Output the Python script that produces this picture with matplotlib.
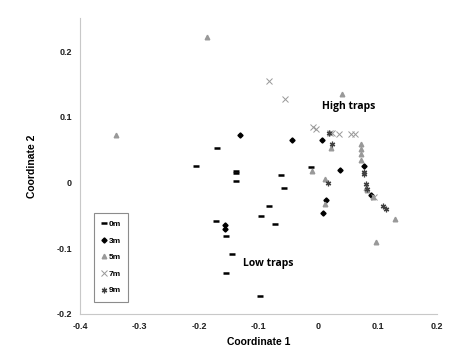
import matplotlib
matplotlib.use("Agg")
import matplotlib.pyplot as plt

# coordinates, one pair of lists per trap height
x_0m = [-0.205, -0.170, -0.138, -0.138, -0.138, -0.063, -0.058, -0.082, -0.096, -0.073,
        -0.172, -0.155, -0.144, -0.154, -0.098, -0.012]
y_0m = [0.025, 0.052, 0.018, 0.014, 0.002, 0.011, -0.008, -0.035, -0.051, -0.063,
        -0.059, -0.082, -0.108, -0.138, -0.172, 0.023]

x_3m = [-0.131, -0.043, 0.006, 0.037, 0.013, 0.008, 0.077, 0.089, -0.156, -0.156]
y_3m = [0.073, 0.064, 0.064, 0.019, -0.026, -0.046, 0.025, -0.019, -0.065, -0.070]

x_5m = [-0.186, -0.340, 0.041, 0.021, -0.011, 0.012, 0.011, 0.073, 0.073, 0.073,
        0.073, 0.080, 0.083, 0.129, 0.098, 0.092]
y_5m = [0.222, 0.073, 0.135, 0.052, 0.018, 0.006, -0.033, 0.058, 0.051, 0.043,
        0.035, -0.008, -0.012, -0.055, -0.090, -0.022]

x_7m = [-0.082, -0.055, -0.008, -0.004, 0.020, 0.024, 0.035, 0.056, 0.062, 0.094]
y_7m = [0.154, 0.127, 0.084, 0.081, 0.076, 0.076, 0.074, 0.074, 0.074, -0.022]

x_9m = [0.019, 0.023, 0.017, 0.077, 0.077, 0.081, 0.083, 0.109, 0.115]
y_9m = [0.076, 0.059, 0.000, 0.016, 0.013, -0.003, -0.010, -0.035, -0.041]

x_ticks = [-0.4, -0.3, -0.2, -0.1, 0, 0.1, 0.2]
y_ticks = [-0.2, -0.1, 0, 0.1, 0.2]

plt.rcParams['font.family'] = ['Liberation Sans', 'DejaVu Sans']

fig = plt.figure(figsize=(4.74, 3.46), dpi=100)
ax = fig.add_axes([0.169, 0.0925, 0.753, 0.855])

ax.plot(x_0m, y_0m, ls='none', marker='_', ms=4.5, mew=1.8, color='black', label='0m')
ax.plot(x_3m, y_3m, ls='none', marker='D', ms=2.6, color='black', label='3m')
ax.plot(x_5m, y_5m, ls='none', marker='^', ms=3.3, color='#999999', label='5m')
ax.plot(x_7m, y_7m, ls='none', marker='x', ms=4.5, mew=0.7, color='#999999', label='7m')
ax.plot(x_9m, y_9m, ls='none', marker=(6, 2, 0), ms=4, mew=0.9, color='#404040', label='9m')

ax.set_xlim(-0.4, 0.2)
ax.set_ylim(-0.2, 0.25)
ax.set_xticks(x_ticks)
ax.set_yticks(y_ticks)
ax.set_xticklabels([('%g' % v) for v in x_ticks], fontsize=6.5, fontweight='bold', color='#202020')
ax.set_yticklabels([('%g' % v) for v in y_ticks], fontsize=6.5, fontweight='bold', color='#202020')
ax.tick_params(length=0, pad=6)
for s in ['top', 'right']:
    ax.spines[s].set_visible(False)
for s in ['left', 'bottom']:
    ax.spines[s].set_color('#c8c8c8')
    ax.spines[s].set_linewidth(0.8)

ax.set_xlabel('Coordinate 1', fontsize=7.5, fontweight='bold', labelpad=4)
ax.set_ylabel('Coordinate 2', fontsize=7.5, fontweight='bold', labelpad=14)

ax.text(0.0515, 0.116, 'High traps', fontsize=7.5, fontweight='bold',
        family=['Open Sans', 'DejaVu Sans'], ha='center', va='center')
ax.text(-0.083, -0.123, 'Low traps', fontsize=7.5, fontweight='bold',
        family=['Open Sans', 'DejaVu Sans'], ha='center', va='center')

leg = ax.legend(loc='upper left', bbox_to_anchor=(0.04, 0.342),
                prop={'weight': 'bold', 'size': 6}, frameon=True, fancybox=False,
                handlelength=0.6, handletextpad=0.2, borderpad=0.9,
                labelspacing=1.05, borderaxespad=0)
leg.get_frame().set_edgecolor('#707070')
leg.get_frame().set_linewidth(0.8)

fig.savefig('out.png', dpi=100)
